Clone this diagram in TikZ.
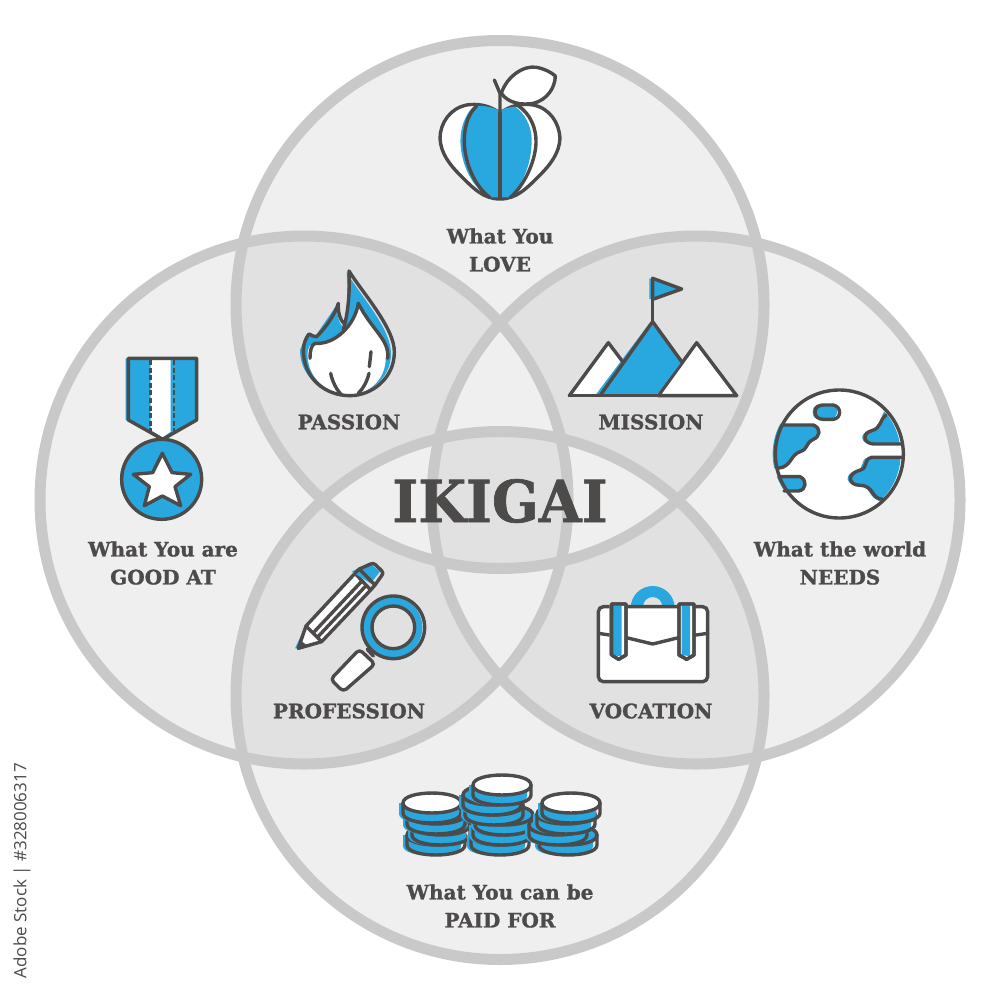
\documentclass[tikz,border=0pt]{standalone}
\usepackage{fontspec}
\setmainfont{DejaVu Serif}
\newfontfamily\labfont{DejaVu Serif Bold}[FakeBold=1.2]
\newfontfamily\sidefont{Open Sans}
\definecolor{ink}{HTML}{4D4A4A}
\definecolor{sky}{HTML}{29A7DF}
\definecolor{ringc}{HTML}{C9C9C9}
\definecolor{paleg}{HTML}{EFEFEF}
\definecolor{darkg}{HTML}{E1E1E1}
\tikzset{
  ln/.style={draw=ink,line width=3.4pt,line join=round,line cap=round},
  ring/.style={draw=ringc,line width=11pt},
  lab/.style={text=ink,font=\fontsize{20}{28}\selectfont\labfont,align=center,inner sep=0pt},
  zoomscope/.style={shift={#1},scale=0.33333}
}
\newcommand{\coin}[3]{% x y topfill
  \fill[sky] (#1-33,#2) -- (#1-33,#2+11) .. controls (#1-33,#2+24) and (#1+25,#2+24) .. (#1+25,#2+11) -- (#1+25,#2) -- cycle;
  \draw[ln,fill=#3] (#1-29,#2) .. controls (#1-29,#2-13.3) and (#1+29,#2-13.3) .. (#1+29,#2) .. controls (#1+29,#2+13.3) and (#1-29,#2+13.3) .. (#1-29,#2) -- cycle;
  \draw[ln] (#1-29,#2) -- (#1-29,#2+10) .. controls (#1-29,#2+23.3) and (#1+29,#2+23.3) .. (#1+29,#2+10) -- (#1+29,#2);
}
\begin{document}
\begin{tikzpicture}[x=1pt,y=-1pt]
\useasboundingbox (0,0) rectangle (1000,1000);
\fill[white] (0,0) rectangle (1000,1000);
% circles
\fill[darkg] (500,304.5) circle[radius=264] (304,500) circle[radius=264] (696,500) circle[radius=264] (500,695.5) circle[radius=264];
\fill[paleg,even odd rule] (500,304.5) circle[radius=264] (304,500) circle[radius=264] (696,500) circle[radius=264] (500,695.5) circle[radius=264];
\draw[ring] (500,304.5) circle[radius=264];
\draw[ring] (304,500) circle[radius=264];
\draw[ring] (696,500) circle[radius=264];
\draw[ring] (500,695.5) circle[radius=264];

% apple + mountain (zoom 1 coordinates)
\begin{scope}[zoomscope={(280,50)}]
  % apple
  \path[ln,fill=white] (660,190) .. controls (630,165) and (590,160) .. (560,165) .. controls (510,175) and (480,220) .. (480,265) .. controls (482,310) and (510,345) .. (540,375) .. controls (580,415) and (610,447) .. (660,447) .. controls (710,447) and (740,415) .. (780,375) .. controls (810,345) and (838,310) .. (840,265) .. controls (838,220) and (810,175) .. (760,165) .. controls (730,160) and (690,165) .. (660,190) -- cycle;
  \fill[sky] (654,180) .. controls (630,168) and (600,165) .. (580,170) .. controls (545,205) and (535,260) .. (545,310) .. controls (555,370) and (590,420) .. (625,442) -- (690,442) .. controls (730,400) and (755,340) .. (755,270) .. controls (755,230) and (735,190) .. (705,170) .. controls (690,170) and (670,178) .. (654,180) -- cycle;
  \path[ln] (590,168) .. controls (560,195) and (552,240) .. (553,280) .. controls (555,340) and (585,410) .. (630,443);
  \path[ln] (715,168) .. controls (750,190) and (770,235) .. (768,280) .. controls (765,340) and (730,410) .. (690,443);
  \path[ln] (660,190) -- (660,445);
  \path[ln] (660,190) -- (660,130) -- (643,90);
  \path[ln,fill=white] (664,130) .. controls (680,80) and (730,45) .. (770,52) .. controls (795,57) and (815,68) .. (826,78) .. controls (825,115) and (800,150) .. (760,160) .. controls (725,166) and (685,160) .. (664,130) -- cycle;
  % mountains
  \path[fill=white] (868,1037) -- (985,878) -- (1040,945) -- (950,1037) -- cycle;
  \path[ln,fill=white] (1135,1037) -- (1250,878) -- (1370,1037) -- cycle;
  \fill[sky] (945,1037) -- (1112,815) -- (1205,935) -- (1128,1037) -- cycle;
  \path[ln] (960,1037) -- (1118,815) -- (1205,935);
  \path[ln] (868,1037) -- (985,878) -- (1028,935);
  \path[ln] (868,1037) -- (1370,1037);
  \path[ln] (1118,815) -- (1118,685);
  \fill[sky] (1108,685) -- (1205,717) -- (1108,748) -- cycle;
  \path[ln] (1118,748) -- (1118,685) -- (1205,717) -- (1118,748);
\end{scope}

% flame
\begin{scope}[zoomscope={(295,265)}]
  \fill[sky] (155,22) .. controls (195,90) and (288,190) .. (288,265) .. controls (288,340) and (225,388) .. (165,388) .. controls (90,392) and (15,340) .. (15,255) -- (35,207) -- (62,212) -- (125,120) .. controls (125,150) and (135,190) .. (150,185) .. controls (160,130) and (158,70) .. (155,22) -- cycle;
  \fill[white] (190,115) .. controls (235,200) and (280,225) .. (272,280) .. controls (272,340) and (225,388) .. (165,388) .. controls (100,390) and (35,340) .. (38,265) .. controls (40,245) and (45,238) .. (60,235) .. controls (120,240) and (180,180) .. (190,115) -- cycle;
  \path[ln] (145,195) .. controls (160,140) and (165,80) .. (162,18) .. controls (200,80) and (300,190) .. (298,262) .. controls (298,340) and (230,392) .. (165,392) .. controls (90,392) and (25,340) .. (25,255) .. controls (26,235) and (32,220) .. (42,207) .. controls (50,212) and (58,215) .. (65,215) .. controls (90,190) and (120,150) .. (130,115) .. controls (128,140) and (135,165) .. (150,180);
  \path[ln] (45,280) .. controls (45,260) and (48,240) .. (60,235) .. controls (120,240) and (180,180) .. (190,115) .. controls (230,195) and (285,225) .. (278,280);
  \path[ln] (228,260) -- (223,305);
  \path[ln] (107,325) .. controls (112,350) and (125,375) .. (140,390);
  \path[ln] (222,325) .. controls (216,350) and (205,370) .. (190,385);
\end{scope}

% medal (zoom 2 coordinates)
\begin{scope}[zoomscope={(80,340)}]
  \fill[sky] (137,55) -- (345,55) -- (345,240) -- (248,298) -- (137,240) -- cycle;
  \fill[white] (212,58) -- (272,58) -- (272,275) -- (248,292) -- (212,270) -- cycle;
  \path[ln] (145,240) -- (145,55) -- (350,55) -- (350,240) -- (248,298) -- cycle;
  \draw[ink,line width=2.8pt,dash pattern=on 5pt off 2.6pt] (212,60) -- (212,272);
  \draw[ink,line width=2.8pt,dash pattern=on 5pt off 2.6pt] (282,60) -- (282,272);
  \fill[sky] (238,418) circle[radius=118];
  \path[ln,fill=sky] (245,418) circle[radius=120];
  \path[ln,fill=white] (247,340) -- (276,398) -- (332,403) -- (285,440) -- (302,497) -- (247,468) -- (193,497) -- (208,440) -- (160,403) -- (218,398) -- cycle;
\end{scope}

% globe and briefcase (zoom 3 coordinates)
\begin{scope}[zoomscope={(580,380)}]
  \fill[white] (778,222) circle[radius=192];
  \begin{scope}
    \clip (770,222) circle[radius=192];
    \fill[sky] (570,130) -- (700,135) .. controls (730,145) and (720,175) .. (695,180) .. controls (670,190) and (680,210) .. (655,215) .. controls (630,220) and (630,262) .. (585,265) -- (570,265) -- cycle;
    \fill[sky] (570,290) -- (660,290) .. controls (682,300) and (680,330) .. (655,332) -- (570,332) -- cycle;
    \fill[sky] (912,95) .. controls (900,115) and (905,145) .. (865,152) .. controls (835,165) and (845,190) .. (870,192) -- (975,192) -- (975,95) -- cycle;
    \fill[sky] (975,232) -- (865,232) .. controls (835,240) and (860,265) .. (825,272) .. controls (790,285) and (800,315) .. (830,315) .. controls (875,315) and (860,355) .. (905,365) -- (975,365) -- cycle;
  \end{scope}
  \fill[sky] (698,97) .. controls (698,70) and (720,72) .. (735,72) -- (755,72) .. controls (780,80) and (775,115) .. (750,118) -- (720,118) .. controls (705,118) and (698,110) .. (698,97) -- cycle;
  \path[ln] (778,222) circle[radius=192];
  \path[ln] (705,95) .. controls (705,80) and (720,75) .. (730,75) -- (760,75) .. controls (785,80) and (785,115) .. (760,118) -- (730,118) .. controls (715,118) and (705,110) .. (705,95) -- cycle;
  \path[ln] (610,135) -- (700,135) .. controls (725,145) and (720,170) .. (700,178) .. controls (675,190) and (685,208) .. (660,215) .. controls (630,225) and (635,262) .. (592,265);
  \path[ln] (598,290) -- (660,290) .. controls (682,300) and (680,330) .. (655,333) -- (612,333);
  \path[ln] (918,105) .. controls (900,115) and (905,145) .. (875,152) .. controls (845,160) and (850,190) .. (880,192) -- (965,192);
  \path[ln] (968,232) -- (875,232) .. controls (845,240) and (870,265) .. (835,272) .. controls (800,285) and (805,315) .. (840,316) .. controls (885,318) and (870,355) .. (908,358);
  % briefcase
  \fill[sky,even odd rule] (218,684) circle[radius=66] (218,680) circle[radius=29];
  \path[ln] (152,680) arc[radius=66,start angle=180,end angle=0];
  \path[ln] (189,680) arc[radius=29,start angle=180,end angle=0];
  \path[ln,fill=white,rounded corners=5pt] (55,680) rectangle (383,905);
  \path[ln] (55,760) -- (135,772) -- (218,792) -- (300,772) -- (383,760);
  \path[ln,fill=white] (95,672) -- (138,672) -- (138,825) -- (116,838) -- (95,825) -- cycle;
  \fill[sky] (88,675) -- (125,675) -- (125,828) -- (88,826) -- cycle;
  \path[ln] (95,672) -- (138,672) -- (138,825) -- (116,838) -- (95,825) -- cycle;
  \path[ln,fill=white] (297,672) -- (342,672) -- (342,825) -- (320,838) -- (297,825) -- cycle;
  \fill[sky] (305,675) -- (330,675) -- (330,828) -- (305,826) -- cycle;
  \path[ln] (297,672) -- (342,672) -- (342,825) -- (320,838) -- (297,825) -- cycle;
\end{scope}

% pencil and magnifier (zoom 7 coordinates)
\begin{scope}[zoomscope={(280,550)}]
  \fill[sky] (45,295) -- (78,225) -- (90,240) -- (60,295) -- cycle;
  \path[ln,fill=white] (55,295) -- (78,228) -- (225,70) -- (272,120) -- (125,275) -- cycle;
  \path[ln] (78,228) -- (125,275);
  \path[ln] (102,246) -- (246,93);
  \path[ln] (114,260) -- (258,107);
  \draw[ink,fill=ink] (55,295) -- (62,272) -- (78,285) -- cycle;
  \fill[sky] (215,65) -- (268,38) -- (300,65) -- (272,100) -- cycle;
  \path[ln] (225,70) -- (238,57) -- (285,105) -- (272,120);
  \path[ln] (238,57) -- (272,42) .. controls (278,38) and (283,42) .. (286,44) -- (305,62) .. controls (310,68) and (310,72) .. (305,77) -- (285,105);
  \fill[sky,even odd rule] (335,232) circle[radius=92] (340,232) circle[radius=65];
  \path[ln] (340,232) circle[radius=94];
  \path[ln] (340,232) circle[radius=64];
  \path[ln] (262,298) -- (280,318);
  \path[ln,fill=white,rounded corners=4pt] (238,298) -- (285,342) -- (190,425) -- (152,388) -- cycle;
\end{scope}

% coins
\coin{436}{835}{sky}
\coin{441}{825}{sky}
\coin{436}{814}{sky}
\coin{432}{803}{white}
\coin{500}{835}{sky}
\coin{502}{825}{sky}
\coin{504}{815}{sky}
\coin{494}{805}{sky}
\coin{492}{795}{sky}
\coin{502}{785}{white}
\coin{568}{835}{sky}
\coin{558}{825}{sky}
\coin{566}{814}{sky}
\coin{571}{803}{white}

% labels
\node[lab,font=\fontsize{58}{60}\selectfont\labfont] (ik) at (500,501) {\scalebox{0.95}[1]{IKIGAI}};
\node[lab] (love) at (500,250) {What You\\LOVE};
\node[lab] (passion) at (349,422) {PASSION};
\node[lab] (mission) at (651,422) {MISSION};
\node[lab] (good) at (163,563) {What You are\\GOOD AT};
\node[lab] (needs) at (840,563) {What the world\\NEEDS};
\node[lab] (prof) at (349,711) {PROFESSION};
\node[lab] (voc) at (651,711) {VOCATION};
\node[lab] (paid) at (500,906) {What You can be\\PAID FOR};
\node[text=ink,font=\fontsize{17}{17}\selectfont\sidefont,rotate=90,anchor=east,inner sep=0pt] (side) at (22,763) {Adobe Stock | \#328006317};
\end{tikzpicture}
\end{document}
